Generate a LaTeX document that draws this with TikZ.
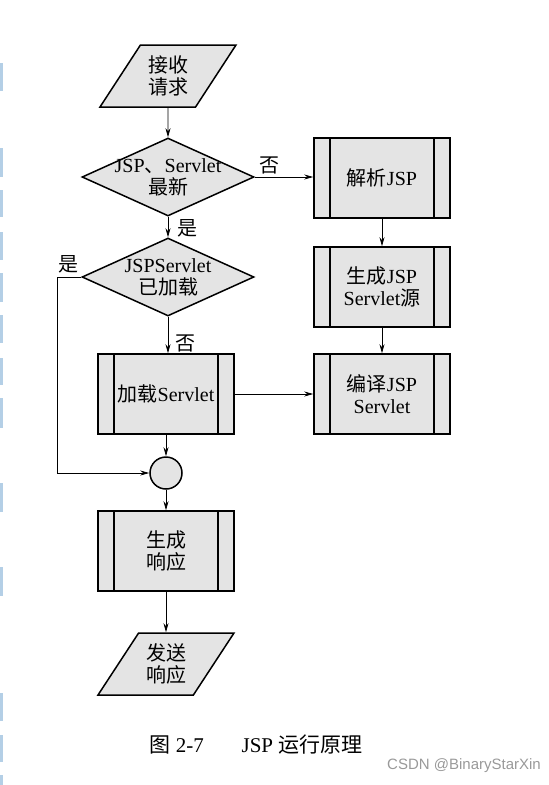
\documentclass[tikz,border=0pt]{standalone}
\usepackage{fontspec}
\setmainfont{Liberation Serif}
\newfontfamily\cjk{Noto Sans CJK SC}
\newfontfamily\wmfont{Liberation Sans}
\newcommand\zh[1]{{\cjk #1}}
\usepackage{xcolor}
\usepackage{tikz}
\usetikzlibrary{arrows.meta,shapes.geometric}
\definecolor{boxgray}{HTML}{E4E4E4}
\definecolor{markblue}{HTML}{B4CFE6}
\tikzset{
  io/.style={trapezium, trapezium left angle=45, trapezium right angle=135,
    trapezium stretches body, draw, line width=1.5pt, fill=boxgray,
    minimum width=136pt, minimum height=62pt, inner sep=0pt, align=center},
  dec/.style={diamond, draw, line width=1.5pt, fill=boxgray,
    minimum width=172pt, minimum height=78pt, inner sep=0pt},
  proc/.style={rectangle, draw, line width=1.5pt, fill=boxgray,
    minimum width=136pt, minimum height=80pt, align=center,
    path picture={
      \draw[line width=1.5pt]
        ([xshift=16pt]path picture bounding box.north west) -- ([xshift=16pt]path picture bounding box.south west)
        ([xshift=-16pt]path picture bounding box.north east) -- ([xshift=-16pt]path picture bounding box.south east);
    }},
  jn/.style={circle, draw, line width=1.5pt, fill=boxgray, minimum size=32pt, inner sep=0pt},
  arr/.style={-{Stealth[length=9pt,width=5pt]}, line width=0.8pt},
  lbl/.style={align=center, inner sep=0pt},
  every picture/.style={line cap=butt, line join=miter}
}

\begin{document}
\begin{tikzpicture}[x=1pt, y=-1pt, font=\fontsize{20}{22}\selectfont]
    \useasboundingbox (0,0) rectangle (549,785);

    % scan marks on the page edge
    \foreach \ya/\yb in {63/91,148/177,190/217,232/260,273/302,315/343,358/385,398/428,483/512,567/596,693/721,735/762,775/785}
      \fill[markblue] (0,\ya) rectangle (3,\yb);

    % left column
    \node[io] (req) at (168,76) {\zh{接收}\\\zh{请求}};
    \node[dec, label={[lbl]center:JSP\zh{、}Servlet\\\zh{最新}}] (fresh) at (168,177) {};
    \node[dec, label={[lbl]center:JSPServlet\\\zh{已加载}}] (loaded) at (168,277) {};
    \node[proc] (load) at (166,394) {\zh{加载}Servlet};
    \node[jn] (join) at (166,473) {};
    \node[proc] (resp) at (166,551) {\zh{生成}\\\zh{响应}};
    \node[io] (send) at (166,664) {\zh{发送}\\\zh{响应}};

    % right column
    \node[proc] (parse) at (382,178) {\zh{解析}JSP};
    \node[proc] (gen) at (382,287) {\zh{生成}JSP\\Servlet\zh{源}};
    \node[proc] (comp) at (382,394) {\zh{编译}JSP\\Servlet};

    \draw[arr] (req) -- (fresh);
    \draw[arr] (fresh) -- node[right, lbl, xshift=9pt, yshift=-1pt] {\zh{是}} (loaded);
    \draw[arr] (fresh.east) -- node[pos=0.25, above, lbl, yshift=3pt] {\zh{否}} (fresh.east -| parse.west);
    \draw[arr] (loaded.south) -- node[right, lbl, xshift=7pt, yshift=-8pt] {\zh{否}} (loaded.south |- load.north);
    \draw[arr] (loaded.west) -- ++(-24,0) node[above, lbl, xshift=11pt, yshift=3pt] {\zh{是}} |- (join);
    \draw[arr] (load) -- (join);
    \draw[arr] (join) -- (resp);
    \draw[arr] (resp) -- (send);
    \draw[arr] (load.east) -- (comp.west);
    \draw[arr] (parse) -- (gen);
    \draw[arr] (gen) -- (comp);

    \node[lbl, font=\fontsize{21}{23}\selectfont] (cap) at (256,745) {\zh{图} 2-7\hspace{1.8em}JSP \zh{运行原理}};
    \node[lbl, anchor=east, text=black!40, font=\wmfont\fontsize{15}{17}\selectfont] (mark) at (541,766) {CSDN @BinaryStarXin};
\end{tikzpicture}
\end{document}
